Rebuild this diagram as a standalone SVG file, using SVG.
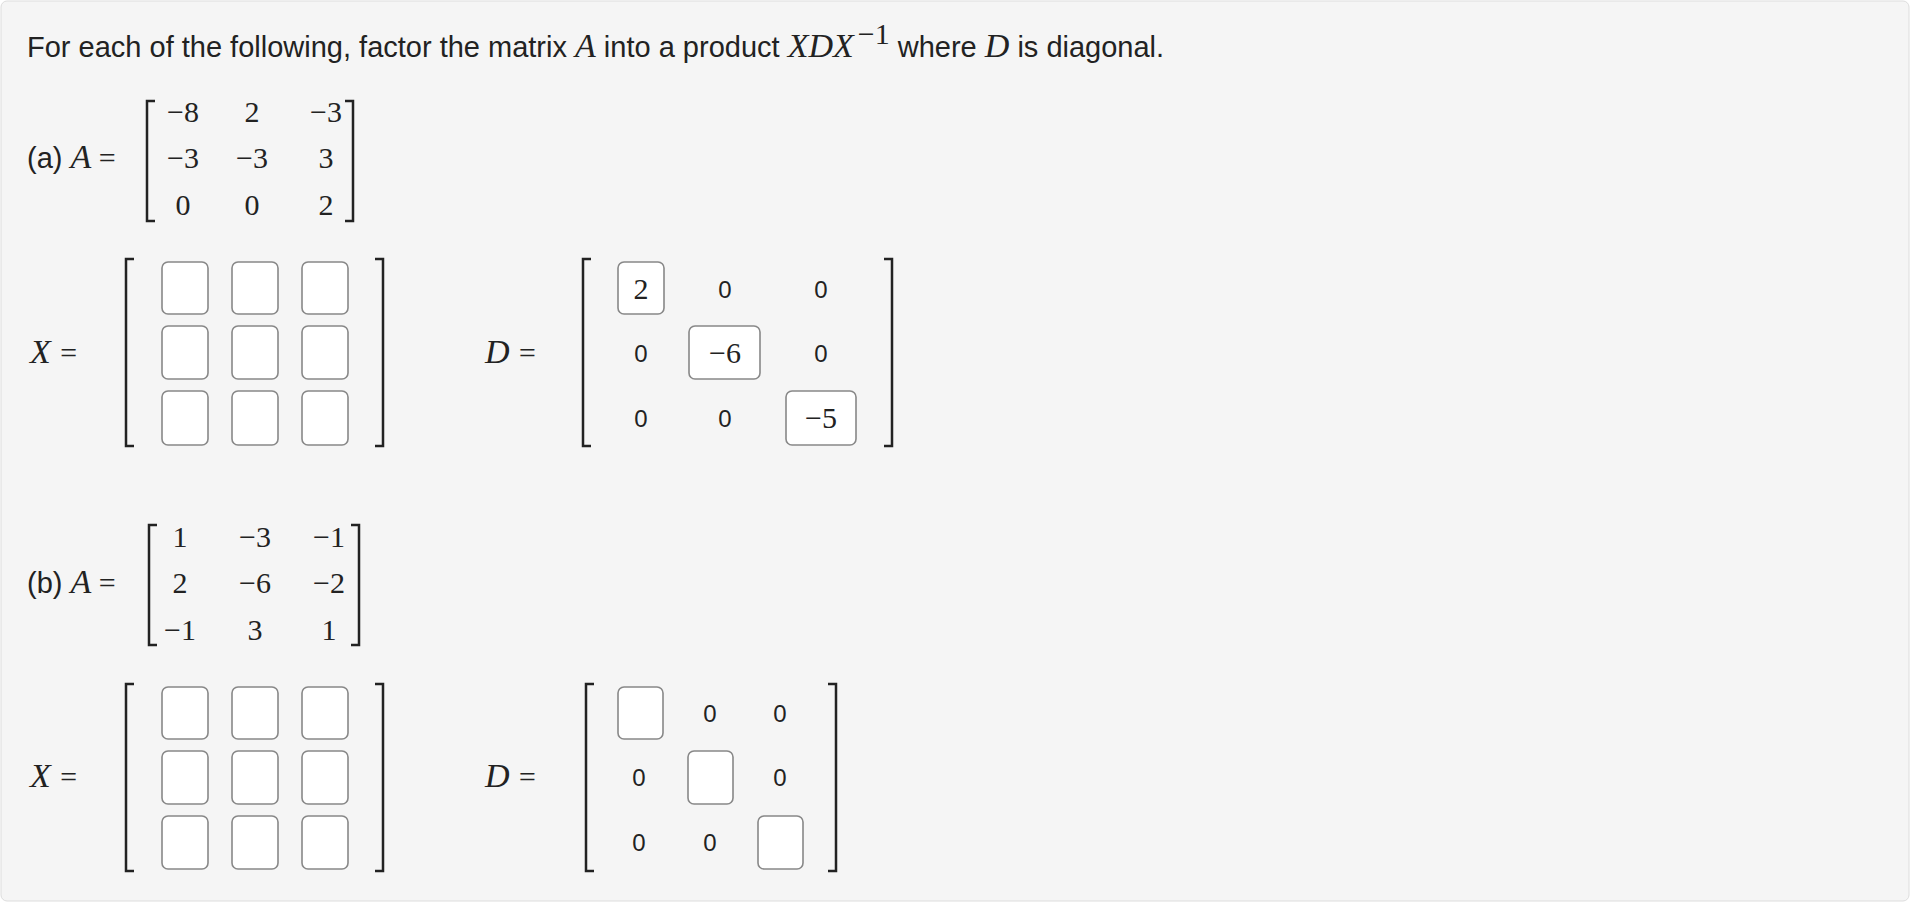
<svg xmlns="http://www.w3.org/2000/svg" width="1910" height="902" viewBox="0 0 1910 902">
<style>
.s{font-family:"Liberation Sans",Arial,sans-serif;font-size:29px;fill:#222}
.m{font-family:"Liberation Serif","DejaVu Serif",serif;font-size:30px;fill:#222}
.mi{font-family:"Liberation Serif","DejaVu Serif",serif;font-size:34px;font-style:italic;fill:#222}
.z{font-family:"Liberation Sans",Arial,sans-serif;font-size:24px;fill:#222}
.b{fill:none;stroke:#222;stroke-width:2.5}
.box{fill:#fff;stroke:#888;stroke-width:1.6}
</style>
<rect x="1" y="1" width="1908" height="900" rx="6" fill="#f5f5f5" stroke="#ddd"/>
<text class="s" x="27" y="57">For each of the following, factor the matrix <tspan class="mi">A</tspan> into a product <tspan class="mi">XDX</tspan><tspan class="m" font-size="22" dx="4" dy="-13">−1</tspan><tspan dy="13"> where </tspan><tspan class="mi">D</tspan> is diagonal.</text>
<g id="partA" text-anchor="middle">
<text class="s" x="27" y="168" text-anchor="start">(a) <tspan class="mi">A</tspan><tspan class="m" font-size="34"> =</tspan></text>
<path class="b" d="M155,101 H147 V221 H155 M345,101 H353 V221 H345"/>
<g class="m"><text x="183" y="122">−8</text><text x="252" y="122">2</text><text x="326" y="122">−3</text>
<text x="183" y="168">−3</text><text x="252" y="168">−3</text><text x="326" y="168">3</text>
<text x="183" y="215">0</text><text x="252" y="215">0</text><text x="326" y="215">2</text></g>
</g>
<g id="Xa">
<text class="mi" x="30" y="363">X<tspan class="m" font-size="34"> =</tspan></text>
<path class="b" d="M134,259 H126 V446 H134 M375,259 H383 V446 H375"/>
<rect class="box" x="162" y="262" width="46" height="52" rx="6"/><rect class="box" x="232" y="262" width="46" height="52" rx="6"/><rect class="box" x="302" y="262" width="46" height="52" rx="6"/>
<rect class="box" x="162" y="326" width="46" height="53" rx="6"/><rect class="box" x="232" y="326" width="46" height="53" rx="6"/><rect class="box" x="302" y="326" width="46" height="53" rx="6"/>
<rect class="box" x="162" y="391" width="46" height="54" rx="6"/><rect class="box" x="232" y="391" width="46" height="54" rx="6"/><rect class="box" x="302" y="391" width="46" height="54" rx="6"/>
</g>
<g id="Da" text-anchor="middle">
<text class="mi" x="485" y="363" text-anchor="start">D<tspan class="m" font-size="34"> =</tspan></text>
<path class="b" d="M591,259 H583 V446 H591 M884,259 H892 V446 H884"/>
<rect class="box" x="618" y="262" width="46" height="52" rx="6"/>
<rect class="box" x="689" y="326" width="71" height="53" rx="6"/>
<rect class="box" x="786" y="391" width="70" height="54" rx="6"/>
<text class="m" x="641" y="299">2</text><text class="z" x="725" y="298">0</text><text class="z" x="821" y="298">0</text>
<text class="z" x="641" y="362">0</text><text class="m" x="725" y="363">−6</text><text class="z" x="821" y="362">0</text>
<text class="z" x="641" y="427">0</text><text class="z" x="725" y="427">0</text><text class="m" x="821" y="428">−5</text>
</g>
<g id="partB" text-anchor="middle">
<text class="s" x="27" y="593" text-anchor="start">(b) <tspan class="mi">A</tspan><tspan class="m" font-size="34"> =</tspan></text>
<path class="b" d="M157,525 H149 V645 H157 M351,525 H359 V645 H351"/>
<g class="m"><text x="180" y="547">1</text><text x="255" y="547">−3</text><text x="329" y="547">−1</text>
<text x="180" y="593">2</text><text x="255" y="593">−6</text><text x="329" y="593">−2</text>
<text x="180" y="640">−1</text><text x="255" y="640">3</text><text x="329" y="640">1</text></g>
</g>
<g id="Xb">
<text class="mi" x="30" y="787">X<tspan class="m" font-size="34"> =</tspan></text>
<path class="b" d="M134,684 H126 V871 H134 M375,684 H383 V871 H375"/>
<rect class="box" x="162" y="687" width="46" height="52" rx="6"/><rect class="box" x="232" y="687" width="46" height="52" rx="6"/><rect class="box" x="302" y="687" width="46" height="52" rx="6"/>
<rect class="box" x="162" y="751" width="46" height="53" rx="6"/><rect class="box" x="232" y="751" width="46" height="53" rx="6"/><rect class="box" x="302" y="751" width="46" height="53" rx="6"/>
<rect class="box" x="162" y="816" width="46" height="53" rx="6"/><rect class="box" x="232" y="816" width="46" height="53" rx="6"/><rect class="box" x="302" y="816" width="46" height="53" rx="6"/>
</g>
<g id="Db" text-anchor="middle">
<text class="mi" x="485" y="787" text-anchor="start">D<tspan class="m" font-size="34"> =</tspan></text>
<path class="b" d="M594,684 H586 V871 H594 M828,684 H836 V871 H828"/>
<rect class="box" x="618" y="687" width="45" height="52" rx="6"/>
<rect class="box" x="688" y="751" width="45" height="53" rx="6"/>
<rect class="box" x="758" y="816" width="45" height="53" rx="6"/>
<text class="z" x="710" y="722">0</text><text class="z" x="780" y="722">0</text>
<text class="z" x="639" y="786">0</text><text class="z" x="780" y="786">0</text>
<text class="z" x="639" y="851">0</text><text class="z" x="710" y="851">0</text>
</g>
</svg>
